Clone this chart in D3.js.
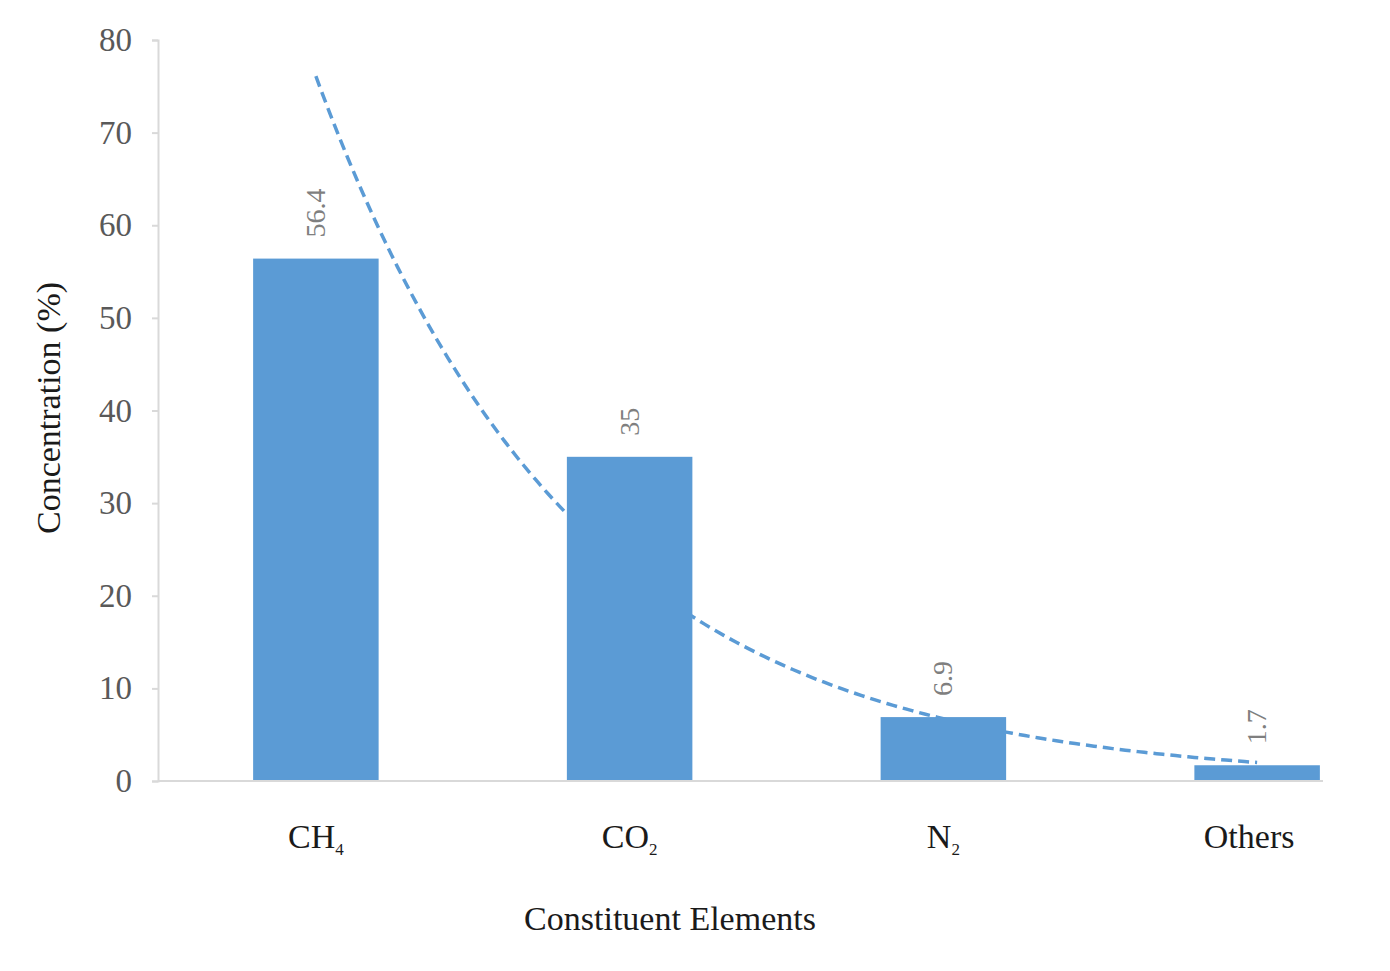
<!DOCTYPE html>
<html>
<head>
<meta charset="utf-8">
<script src="https://cdn.jsdelivr.net/npm/d3@7"></script>
<style>
body { margin: 0; background: #fff; }
text { font-family: "Liberation Serif", "DejaVu Serif", serif; }
</style>
</head>
<body>
<svg></svg>
<script>
// chart data
var categories = ["CH4", "CO2", "N2", "Others"];
var subscripts = ["4", "2", "2", ""];
var bases = ["CH", "CO", "N", "Others"];
var values = [56.4, 35, 6.9, 1.7];
var yTicks = [0, 10, 20, 30, 40, 50, 60, 70, 80];

var width = 1390, height = 971;
var svg = d3.select("svg").attr("width", width).attr("height", height);

var x = d3.scaleBand()
	.domain(categories)
	.range([159, 1414])
	.paddingInner(0.6)
	.paddingOuter(0.3);

var y = d3.scaleLinear()
	.domain([0, 80])
	.range([781, 40]);

var axisColor = "#d9d9d9";
var barColor = "#5b9bd5";

// exponential trendline (least squares on ln y, x = 1..n), like Excel
function expFit(vals){
	var n = vals.length, sx = 0, sl = 0;
	vals.forEach(function(v, i){ sx += i+1; sl += Math.log(v); });
	var mx = sx/n, ml = sl/n, num = 0, den = 0;
	vals.forEach(function(v, i){
		num += (i+1-mx)*(Math.log(v)-ml);
		den += (i+1-mx)*(i+1-mx);
	});
	var b = num/den;
	return { a: Math.exp(ml - b*mx), b: b };
}
var fit = expFit(values);
var trend = [];
for(var t=1; t<=values.length; t+=0.02){
	trend.push(t);
}
trend.push(values.length);

var step = x.step();
var firstCenter = x(categories[0]) + x.bandwidth()/2;
var tx = function(t){ return firstCenter + (t-1)*step; };

svg.append("path")
	.datum(trend)
	.attr("d", d3.line().x(tx).y(function(t){ return y(fit.a*Math.exp(fit.b*t)); }))
	.style("fill", "none")
	.style("stroke", barColor)
	.style("stroke-width", 3.5)
	.style("stroke-dasharray", "11,6");

// y axis
var yAxis = svg.append("g")
	.attr("transform", "translate(158,0)")
	.call(d3.axisLeft(y).tickValues(yTicks).tickSize(6).tickPadding(20));
yAxis.select(".domain").style("stroke", axisColor).style("stroke-width", 2);
yAxis.selectAll(".tick line").style("stroke", axisColor).style("stroke-width", 2);
yAxis.selectAll(".tick text")
	.style("font-family", "'Liberation Serif', serif")
	.style("font-size", "33px")
	.style("fill", "#595959");

// bars
svg.selectAll(".bar")
	.data(values)
	.enter().append("rect")
	.attr("class", "bar")
	.attr("x", function(d, i){ return x(categories[i]); })
	.attr("y", function(d){ return y(d); })
	.attr("width", x.bandwidth())
	.attr("height", function(d){ return y(0) - y(d); })
	.style("fill", barColor);

// x axis line
svg.append("line")
	.attr("x1", 158).attr("x2", 1323)
	.attr("y1", y(0)).attr("y2", y(0))
	.style("stroke", axisColor)
	.style("stroke-width", 2);

// value labels
svg.selectAll(".val")
	.data(values)
	.enter().append("text")
	.attr("class", "val")
	.attr("transform", function(d, i){
		return "translate(" + (x(categories[i]) + x.bandwidth()/2 + 9) + "," + (y(d) - 21) + ") rotate(-90)";
	})
	.attr("text-anchor", "start")
	.style("font-size", "28px")
	.style("fill", "#7f7f7f")
	.text(function(d){ return d; });

// category labels
var cat = svg.selectAll(".cat")
	.data(categories)
	.enter().append("text")
	.attr("class", "cat")
	.attr("x", function(d, i){ return x(d) + x.bandwidth()/2 - (i == 3 ? 8 : 0); })
	.attr("y", 848)
	.attr("text-anchor", "middle")
	.style("font-size", "34px")
	.style("fill", "#1a1a1a");
cat.append("tspan").text(function(d, i){ return bases[i]; });
cat.append("tspan")
	.attr("dy", 7)
	.style("font-size", "17px")
	.text(function(d, i){ return subscripts[i]; });

// axis titles
svg.append("text")
	.attr("x", 670)
	.attr("y", 930)
	.attr("text-anchor", "middle")
	.style("font-size", "34px")
	.style("fill", "#1a1a1a")
	.text("Constituent Elements");

svg.append("text")
	.attr("transform", "translate(60,408) rotate(-90)")
	.attr("text-anchor", "middle")
	.style("font-size", "34px")
	.style("fill", "#1a1a1a")
	.text("Concentration (%)");
</script>
</body>
</html>
